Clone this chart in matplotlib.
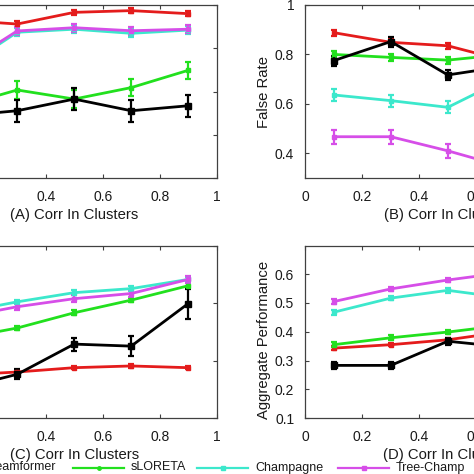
import matplotlib
matplotlib.use("Agg")
import matplotlib.pyplot as plt
from matplotlib.lines import Line2D
from matplotlib.ticker import FixedLocator, FuncFormatter

plt.rcParams["font.family"] = ["Liberation Sans", "DejaVu Sans"]

#correlation inside clusters, same for all four panels
corr = [0.1, 0.3, 0.5, 0.7, 0.9]

methods = ["Beamformer", "sLORETA", "Champagne", "Tree-Champ", "other"]
colors = ["#e41c1c", "#22e01e", "#3ce8cc", "#d64ee8", "#000000"]

#(A) - left axis is cut off in the reference, values read on a 0.2..1 scale
a_beam = [0.930, 0.912, 0.966, 0.974, 0.960]
a_slor = [0.532, 0.607, 0.565, 0.618, 0.698]
a_champ = [0.700, 0.874, 0.888, 0.869, 0.884]
a_tree = [0.712, 0.880, 0.895, 0.881, 0.888]
a_other = [0.487, 0.511, 0.565, 0.511, 0.534]
a_err = [0.012, 0.040, 0.018, 0.018, 0.050]

#(B) false rate
b_beam = [0.888, 0.849, 0.835, 0.775, 0.770]
b_slor = [0.800, 0.788, 0.777, 0.800, 0.800]
b_champ = [0.636, 0.613, 0.586, 0.700, 0.690]
b_tree = [0.467, 0.467, 0.410, 0.345, 0.340]
b_other = [0.775, 0.852, 0.717, 0.752, 0.750]
b_err = [0.012, 0.014, 0.024, 0.028, 0.020]

#(C) - left axis cut off too, read on a 0..0.6 scale
c_beam = [0.149, 0.160, 0.175, 0.181, 0.175]
c_slor = [0.276, 0.313, 0.366, 0.410, 0.460]
c_champ = [0.366, 0.404, 0.436, 0.450, 0.482]
c_tree = [0.349, 0.387, 0.415, 0.433, 0.482]
c_other = [0.102, 0.152, 0.257, 0.250, 0.398]
c_err = [0.006, 0.008, 0.008, 0.012, 0.030]
c_other_err = [0.020, 0.017, 0.023, 0.035, 0.052]

#(D) aggregate performance
d_beam = [0.343, 0.355, 0.372, 0.400, 0.405]
d_slor = [0.355, 0.379, 0.399, 0.423, 0.430]
d_champ = [0.468, 0.517, 0.544, 0.518, 0.530]
d_tree = [0.505, 0.549, 0.580, 0.606, 0.612]
d_other = [0.283, 0.283, 0.367, 0.347, 0.360]
d_err = [0.006, 0.008, 0.008, 0.008, 0.012]

W = H = 474
fig = plt.figure(figsize=(W / 100, H / 100), dpi=100)


def px_axes(left, top, width, height):
    #pixel box (from top-left) -> figure fraction
    return fig.add_axes([left / W, (H - top - height) / H, width / W, height / H])


panels = [
    (px_axes(-68.3, 5, 285, 173), [a_beam, a_slor, a_champ, a_tree, a_other], a_err,
     "(A) Corr In Clusters", "", (0.2, 1.0), [0.2, 0.4, 0.6, 0.8, 1.0]),
    (px_axes(305.3, 5, 285, 173), [b_beam, b_slor, b_champ, b_tree, b_other], b_err,
     "(B) Corr In Clusters", "False Rate", (0.3, 1.0), [0.4, 0.6, 0.8, 1.0]),
    (px_axes(-68.3, 245.5, 285, 172.5), [c_beam, c_slor, c_champ, c_tree, c_other], c_err,
     "(C) Corr In Clusters", "", (0.0, 0.6), [0.0, 0.2, 0.4, 0.6]),
    (px_axes(305.3, 245.5, 285, 172.5), [d_beam, d_slor, d_champ, d_tree, d_other], d_err,
     "(D) Corr In Clusters", "Aggregate Performance", (0.1, 0.7), [0.1, 0.2, 0.3, 0.4, 0.5, 0.6]),
]

fmt = FuncFormatter(lambda v, p: "%g" % round(v, 3))

for ax, series, errs, xlab, ylab, ylim, yticks in panels:
    for i, (vals, err, col) in enumerate(zip(series, errs, colors)):
        #black one in C has bigger bars at the high end
        e = c_other_err if (i == 4 and xlab.startswith("(C)")) else err
        ms = 4.5 if i == 4 else 3.2
        ax.errorbar(corr, vals, yerr=e, color=col, lw=2.0, marker="s", ms=ms,
                    elinewidth=1.6, capsize=2.2, capthick=1.6)
    ax.set_xlim(0, 1)
    ax.set_ylim(*ylim)
    ax.xaxis.set_major_locator(FixedLocator([0, 0.2, 0.4, 0.6, 0.8, 1.0]))
    ax.yaxis.set_major_locator(FixedLocator(yticks))
    ax.xaxis.set_major_formatter(fmt)
    ax.yaxis.set_major_formatter(fmt)
    ax.tick_params(direction="in", top=True, right=True, length=3, width=0.8,
                   color="#404040", labelsize=10, labelcolor="#1a1a1a")
    ax.tick_params(axis="x", pad=8.5)
    ax.tick_params(axis="y", pad=8)
    for sp in ax.spines.values():
        sp.set_color("#404040")
        sp.set_linewidth(0.9)
    ax.set_xlabel(xlab, fontsize=10.7, labelpad=3, color="#1a1a1a")
    if ylab:
        ax.set_ylabel(ylab, fontsize=10.7, color="#1a1a1a")

#y labels placed by hand, the aggregate one a bit below the middle
panels[1][0].yaxis.set_label_coords(-0.12, 0.5)
panels[3][0].yaxis.set_label_coords(-0.12, 0.45)

#legend row along the bottom, laid out by hand like the original
leg_starts = [-71, 73, 197, 338]
leg_markers = ["s", "o", "s", "s"]
leg_y = 467.5
for name, col, x0, mk in zip(methods[:4], colors[:4], leg_starts, leg_markers):
    fig.add_artist(Line2D([x0 / W, (x0 + 51) / W], [(H - leg_y) / H] * 2,
                          transform=fig.transFigure, color=col, lw=1.6))
    fig.add_artist(Line2D([(x0 + 25.5) / W], [(H - leg_y) / H], transform=fig.transFigure,
                          color=col, marker=mk, ms=2.5, lw=0))
    fig.text((x0 + 58) / W, (H - leg_y) / H, name, fontsize=9, va="center", ha="left",
             color="#1a1a1a")

fig.savefig("out.png", dpi=100)
